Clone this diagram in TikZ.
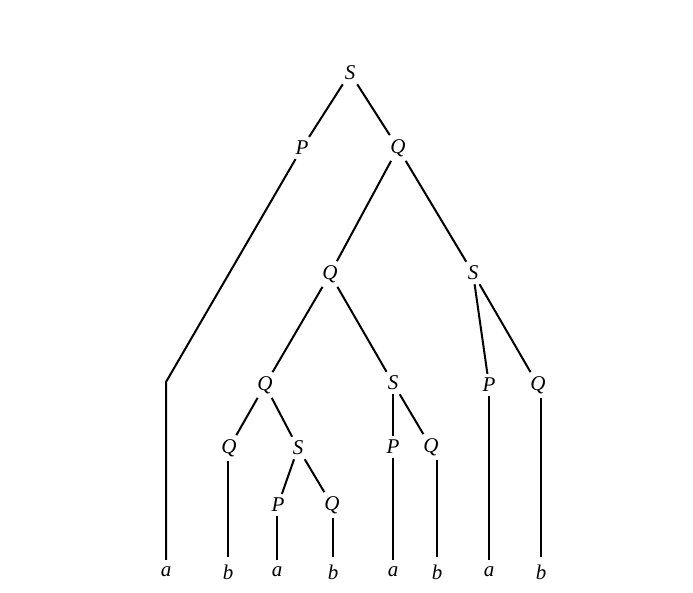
\documentclass[tikz,border=0pt]{standalone}
\usepackage{fontspec}
\setmainfont{Liberation Serif}
\begin{document}
\begin{tikzpicture}[x=1pt,y=-1pt,
  lab/.style={font=\fontsize{21}{23}\selectfont\itshape, inner sep=4pt},
  leaf/.style={font=\fontsize{21}{23}\selectfont\itshape, inner sep=7pt},
  edge/.style={line width=2pt}]
\useasboundingbox (0,0) rectangle (693,593);
% internal nodes
\node[lab] (s0) at (350,73) {S};
\node[lab] (p1) at (302,148) {P};
\node[lab] (q1) at (398,148) {Q};
\node[lab] (q2) at (330,274) {Q};
\node[lab] (s2) at (473,273) {S};
\node[lab] (q3) at (265,385) {Q};
\node[lab] (s3) at (393,383) {S};
\node[lab] (p3) at (489,385) {P};
\node[lab] (q3b) at (538,385) {Q};
\node[lab] (q4) at (229,448) {Q};
\node[lab] (s4) at (298,448) {S};
\node[lab] (p4) at (393,447) {P};
\node[lab] (q4b) at (431,447) {Q};
\node[lab] (p5) at (278,505) {P};
\node[lab] (q5) at (332,505) {Q};
% leaves
\node[leaf] (l1) at (166,572) {a};
\node[leaf] (l2) at (228,572) {b};
\node[leaf] (l3) at (277,572) {a};
\node[leaf] (l4) at (333,572) {b};
\node[leaf] (l5) at (393,572) {a};
\node[leaf] (l6) at (437,572) {b};
\node[leaf] (l7) at (489,572) {a};
\node[leaf] (l8) at (541,572) {b};
\coordinate (k) at (166,382);
% edges
\draw[edge] (s0) -- (p1);
\draw[edge] (s0) -- (q1);
\draw[edge] (p1) -- (k) -- (l1.north);
\draw[edge] (q1) -- (q2);
\draw[edge] (q1) -- (s2);
\draw[edge] (q2) -- (q3);
\draw[edge] (q2) -- (s3);
\draw[edge] (s2) -- (p3);
\draw[edge] (s2) -- (q3b);
\draw[edge] (q3) -- (q4);
\draw[edge] (q3) -- (s4);
\draw[edge] (s3) -- (p4);
\draw[edge] (s3) -- (q4b);
\draw[edge] (s4) -- (p5);
\draw[edge] (s4) -- (q5);
\draw[edge] (l2 |- q4.south) -- (l2.north);
\draw[edge] (l3 |- p5.south) -- (l3.north);
\draw[edge] (l4 |- q5.south) -- (l4.north);
\draw[edge] (l5 |- p4.south) -- (l5.north);
\draw[edge] (l6 |- q4b.south) -- (l6.north);
\draw[edge] (l7 |- p3.south) -- (l7.north);
\draw[edge] (l8 |- q3b.south) -- (l8.north);
\end{tikzpicture}
\end{document}
